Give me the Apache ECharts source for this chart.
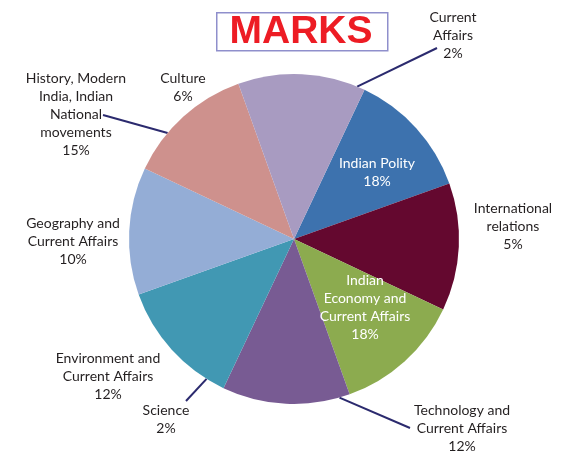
<!DOCTYPE html>
<html>
<head>
<meta charset="utf-8">
<script src="https://cdn.jsdelivr.net/npm/echarts@6/dist/echarts.min.js"></script>
<style>html,body{margin:0;padding:0;background:#fff}#c{width:586px;height:461px}</style>
</head>
<body>
<div id="c"></div>
<script>
// ---- data ----
const topics = ['Current Affairs', 'Indian Polity', 'International relations',
  'Indian Economy and Current Affairs', 'Technology and Current Affairs', 'Science',
  'Environment and Current Affairs', 'Geography and Current Affairs',
  'History, Modern India, Indian National movements', 'Culture'];
const marksPercent = [2, 18, 5, 18, 12, 2, 12, 10, 15, 6];
// slice sizes as drawn in the picture (eight equal sectors; the two 2% items have no visible sector)
const sliceWeights = [0, 1, 1, 1, 1, 0, 1, 1, 1, 1];
const labelText = ['Current\nAffairs', 'Indian Polity', 'International\nrelations',
  'Indian\nEconomy and\nCurrent Affairs', 'Technology and\nCurrent Affairs', 'Science',
  'Environment and\nCurrent Affairs', 'Geography and\nCurrent Affairs',
  'History, Modern\nIndia, Indian\nNational\nmovements', 'Culture'];

// ---- styles / layout ----
const colors = ['#A89BC1', '#3D72AE', '#64082F', '#8CAB4F', '#785B93', '#785B93',
  '#4198B3', '#94ADD6', '#CE918D', '#A89BC1'];
const inside = [false, true, false, true, false, false, false, false, false, false];
const CX = 294, CY = 239, R = 165;
const labelPos = [[453, 35], [377, 172], [513, 226], [365, 307], [462, 428], [166, 419],
  [108, 376], [73, 241], [76, 114], [183, 87]];
// label guide lines: angle (deg clockwise from north) of the anchor on the pie rim, and the outer end
const guides = {0: {angle: 22.5, end: [437, 48]}, 4: {angle: 164, end: [410, 428]},
  5: {angle: 212, end: [186, 401]}, 8: {angle: 310, end: [103, 115]}};

const chart = echarts.init(document.getElementById('c'), null, {renderer: 'canvas'});
const data = topics.map((t, i) => ({
  name: t,
  value: sliceWeights[i],
  itemStyle: {color: colors[i]},
  label: {
    formatter: labelText[i] + '\n' + marksPercent[i] + '%',
    color: inside[i] ? '#ffffff' : '#231F20'
  },
  labelLine: {show: !!guides[i]}
}));

chart.setOption({
  animation: false,
  graphic: [{
    type: 'rect', left: 216, top: 12,
    shape: {width: 171, height: 38},
    style: {fill: '#fff', stroke: '#8F8FCC', lineWidth: 1.5}
  }, {
    type: 'text', x: 301, y: 32,
    style: {text: 'MARKS', fill: '#ED1C24', font: 'bold 39px "Liberation Sans", Arial, sans-serif',
      align: 'center', verticalAlign: 'middle'}
  }],
  series: [{
    type: 'pie',
    center: [CX, CY],
    radius: [0, R],
    startAngle: 64.7,
    clockwise: true,
    avoidLabelOverlap: false,
    itemStyle: {borderWidth: 0},
    emphasis: {disabled: true},
    label: {
      show: true, position: 'outside',
      fontFamily: 'Lato, "Open Sans", sans-serif', fontSize: 14, lineHeight: 18,
      align: 'center'
    },
    labelLine: {lineStyle: {color: '#2B2A6E', width: 2}},
    labelLayout: function (params) {
      const i = params.dataIndex;
      const res = {x: labelPos[i][0], y: labelPos[i][1], align: 'center', verticalAlign: 'middle'};
      const g = guides[i];
      if (g) {
        const a = g.angle * Math.PI / 180;
        res.labelLinePoints = [[CX + R * Math.sin(a), CY - R * Math.cos(a)], g.end];
      }
      return res;
    },
    data: data
  }]
});
</script>
</body>
</html>
